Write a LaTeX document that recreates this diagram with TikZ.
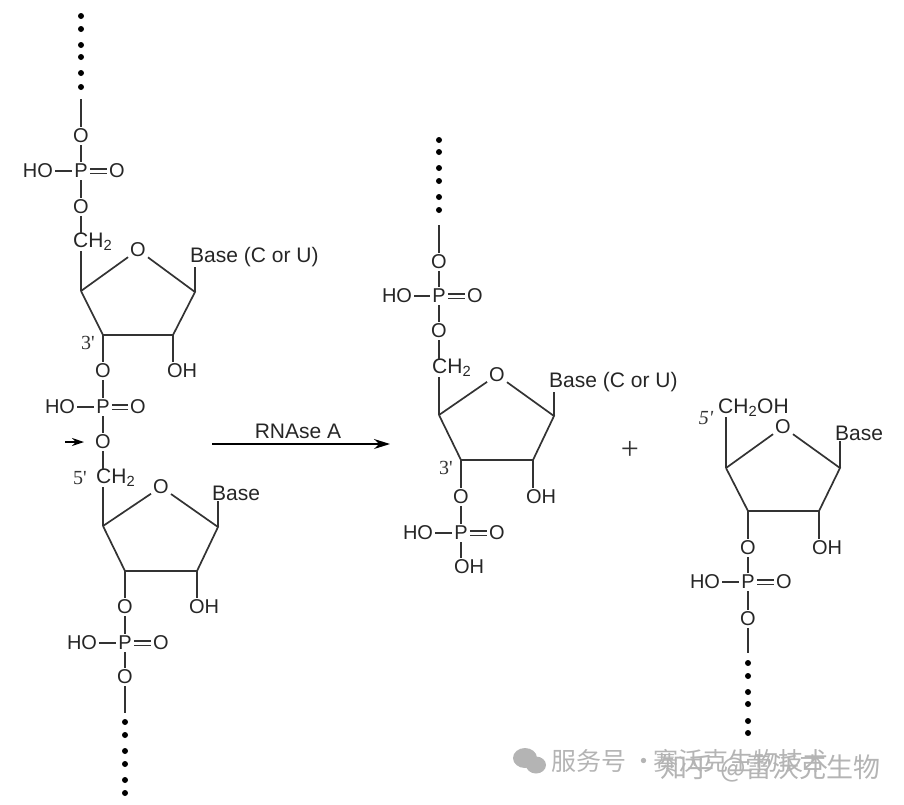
\documentclass[tikz,border=0pt]{standalone}
\usepackage{fontspec}
\usetikzlibrary{arrows.meta}
\setmainfont{Liberation Sans}
\newfontfamily\serifnum{Liberation Serif}
\newfontfamily\cjk{Noto Sans CJK SC}
\definecolor{wmgray}{HTML}{B4B4B4}
\tikzset{
    atom/.style={font=\fontsize{20}{24}\selectfont, inner sep=2pt, text=black!85},
    label/.style={font=\fontsize{21}{25}\selectfont, inner sep=0pt, text=black!85},
    prime/.style={font=\serifnum\fontsize{20}{24}\selectfont, inner sep=0pt, text=black!80},
    chaindot/.style={circle, fill=black, inner sep=0pt, minimum size=6pt},
    bond/.style={line width=1.7pt, black!80},
    dblbond/.style={line width=1.1pt, black!80, double, double distance=3pt},
    wmark/.style={font=\cjk\fontsize{25}{30}\selectfont, text=wmgray, inner sep=0pt}
}
\begin{document}
\begin{tikzpicture}[x=1pt,y=-1pt]
    \useasboundingbox (0,0) rectangle (904,804);
    % upper unit, left strand
    \foreach \y in {16,29,45,57,73,87} \node[chaindot] (la\y) at (81,\y) {};
    \coordinate (la) at (81,99);
    \node[atom] (laO) at (81,136) {O};
    \node[atom] (laP) at (81,171) {P};
    \node[atom] (laHO) at (38,171) {HO};
    \node[atom] (laDO) at (117,171) {O};
    \node[atom] (laOb) at (81,207) {O};
    \node[label,anchor=west] (laCH) at (73,242) {CH\textsubscript{2}};
    \coordinate (laCa) at (81,291);
    \node[atom] (laRO) at (138,250) {O};
    \coordinate (laCb) at (195,292);
    \coordinate (laCc) at (173,335);
    \coordinate (laCd) at (103,335);
    \node[label,anchor=west] (laBase) at (190,257) {Base (C or U)};
    \node[atom] (laOH) at (182,371) {OH};
    \node[atom] (laOc) at (103,371) {O};
    \node[prime] (laThree) at (88,343) {3'};
    \draw[bond] (la) -- (laO);
    \draw[bond] (laO) -- (laP);
    \draw[bond] (laP) -- (laOb);
    \draw[bond] (laHO) -- (laP);
    \draw[dblbond] (laP) -- (laDO);
    \draw[bond] (laOb) -- (laOb |- laCH.north);
    \draw[bond] (laCa |- laCH.south) -- (laCa);
    \draw[bond] (laCa) -- (laRO) -- (laCb) -- (laCc) -- (laCd) -- (laCa);
    \draw[bond] (laCb) -- (laCb |- laBase.south);
    \draw[bond] (laCc) -- (laCc |- laOH.north);
    \draw[bond] (laCd) -- (laOc);

    % lower unit, left strand
    \node[atom] (lbP) at (103,407) {P};
    \node[atom] (lbHO) at (60,407) {HO};
    \node[atom] (lbDO) at (138,407) {O};
    \node[atom] (lbO) at (103,442) {O};
    \node[prime] (lbFive) at (80,478) {5'};
    \node[label,anchor=west] (lbCH) at (96,478) {CH\textsubscript{2}};
    \coordinate (lbCa) at (103,526);
    \node[atom] (lbRO) at (161,487) {O};
    \coordinate (lbCb) at (218,527);
    \coordinate (lbCc) at (197,571);
    \coordinate (lbCd) at (125,571);
    \node[label] (lbBase) at (236,493) {Base};
    \node[atom] (lbOH) at (204,607) {OH};
    \node[atom] (lbOc) at (125,607) {O};
    \node[atom] (lbPb) at (125,643) {P};
    \node[atom] (lbHOb) at (82,643) {HO};
    \node[atom] (lbDOb) at (161,643) {O};
    \node[atom] (lbOd) at (125,677) {O};
    \coordinate (lb) at (125,713);
    \foreach \y in {722,735,751,764,780,793} \node[chaindot] (lb\y) at (125,\y) {};
    \coordinate (cutTail) at (65,442);
    \coordinate (cutTip) at (84,442);
    \draw[bond] (laOc) -- (lbP);
    \draw[bond] (lbP) -- (lbO);
    \draw[bond] (lbHO) -- (lbP);
    \draw[dblbond] (lbP) -- (lbDO);
    \draw[bond] (lbO) -- (lbO |- lbCH.north);
    \draw[bond] (lbCa |- lbCH.south) -- (lbCa);
    \draw[bond] (lbCa) -- (lbRO) -- (lbCb) -- (lbCc) -- (lbCd) -- (lbCa);
    \draw[bond] (lbCb) -- (lbCb |- lbBase.south);
    \draw[bond] (lbCc) -- (lbCc |- lbOH.north);
    \draw[bond] (lbCd) -- (lbOc);
    \draw[bond] (lbOc) -- (lbPb);
    \draw[bond] (lbPb) -- (lbOd);
    \draw[bond] (lbHOb) -- (lbPb);
    \draw[dblbond] (lbPb) -- (lbDOb);
    \draw[bond] (lbOd) -- (lb);
    \draw[-{Stealth[length=12pt,width=8pt]},line width=1.2pt] (cutTail) -- (cutTip);

    % enzyme arrow
    \coordinate (rxStart) at (212,444);
    \coordinate (rxEnd) at (390,444);
    \draw[-{Stealth[length=16pt,width=10pt]},line width=1.3pt] (rxStart) -- (rxEnd);
    \node[label] (rxLabel) at (298,431) {RNAse A};

    % middle product
    \foreach \y in {140,152,168,181,197,210} \node[chaindot] (ma\y) at (439,\y) {};
    \coordinate (ma) at (439,225);
    \node[atom] (maO) at (439,262) {O};
    \node[atom] (maP) at (439,296) {P};
    \node[atom] (maHO) at (397,296) {HO};
    \node[atom] (maDO) at (475,296) {O};
    \node[atom] (maOb) at (439,331) {O};
    \node[label,anchor=west] (maCH) at (432,368) {CH\textsubscript{2}};
    \coordinate (maCa) at (439,415);
    \node[atom] (maRO) at (497,375) {O};
    \coordinate (maCb) at (554,416);
    \coordinate (maCc) at (533,460);
    \coordinate (maCd) at (461,460);
    \node[label,anchor=west] (maBase) at (549,382) {Base (C or U)};
    \node[atom] (maOH) at (541,497) {OH};
    \node[atom] (maOc) at (461,497) {O};
    \node[prime] (maThree) at (446,468) {3'};
    \node[atom] (maPb) at (461,533) {P};
    \node[atom] (maHOb) at (418,533) {HO};
    \node[atom] (maDOb) at (497,533) {O};
    \node[atom] (maOHb) at (469,567) {OH};
    \draw[bond] (ma) -- (maO);
    \draw[bond] (maO) -- (maP);
    \draw[bond] (maP) -- (maOb);
    \draw[bond] (maHO) -- (maP);
    \draw[dblbond] (maP) -- (maDO);
    \draw[bond] (maOb) -- (maOb |- maCH.north);
    \draw[bond] (maCa |- maCH.south) -- (maCa);
    \draw[bond] (maCa) -- (maRO) -- (maCb) -- (maCc) -- (maCd) -- (maCa);
    \draw[bond] (maCb) -- (maCb |- maBase.south);
    \draw[bond] (maCc) -- (maCc |- maOH.north);
    \draw[bond] (maCd) -- (maOc);
    \draw[bond] (maOc) -- (maPb);
    \draw[bond] (maPb) -- (maPb |- maOHb.north);
    \draw[bond] (maHOb) -- (maPb);
    \draw[dblbond] (maPb) -- (maDOb);

    \node[font=\serifnum\fontsize{32}{36}\selectfont,inner sep=0pt,text=black!80] (plus) at (630,450) {+};

    % right product
    \node[label,anchor=west] (raCH) at (718,408) {CH\textsubscript{2}OH};
    \node[prime,font=\serifnum\itshape\fontsize{20}{24}\selectfont] (raFive) at (706,418) {5'};
    \coordinate (raCa) at (726,468);
    \node[atom] (raRO) at (783,427) {O};
    \coordinate (raCb) at (840,468);
    \coordinate (raCc) at (819,511);
    \coordinate (raCd) at (748,511);
    \node[label] (raBase) at (859,433) {Base};
    \node[atom] (raOH) at (827,548) {OH};
    \node[atom] (raO) at (748,548) {O};
    \node[atom] (raP) at (748,582) {P};
    \node[atom] (raHO) at (705,582) {HO};
    \node[atom] (raDO) at (784,582) {O};
    \node[atom] (raOb) at (748,619) {O};
    \coordinate (ra) at (748,653);
    \foreach \y in {663,676,692,704,721,733} \node[chaindot] (ra\y) at (748,\y) {};
    \draw[bond] (raCa |- raCH.south) -- (raCa);
    \draw[bond] (raCa) -- (raRO) -- (raCb) -- (raCc) -- (raCd) -- (raCa);
    \draw[bond] (raCb) -- (raCb |- raBase.south);
    \draw[bond] (raCc) -- (raCc |- raOH.north);
    \draw[bond] (raCd) -- (raO);
    \draw[bond] (raO) -- (raP);
    \draw[bond] (raP) -- (raOb);
    \draw[bond] (raHO) -- (raP);
    \draw[dblbond] (raP) -- (raDO);
    \draw[bond] (raOb) -- (ra);

    % watermark
    \fill[wmgray] (525,758) ellipse (12 and 10);
    \fill[wmgray] (536,765) ellipse (10 and 8.5);
    \node[wmark,anchor=west] (wmA) at (551,761) {服务号 ·};
    \node[wmark,anchor=west] (wmB) at (653,761) {赛沃克生物技术};
    \node[wmark,anchor=west,font=\cjk\fontsize{27}{32}\selectfont] (wmC) at (660,768) {知乎 @雷沃克生物};
\end{tikzpicture}
\end{document}
